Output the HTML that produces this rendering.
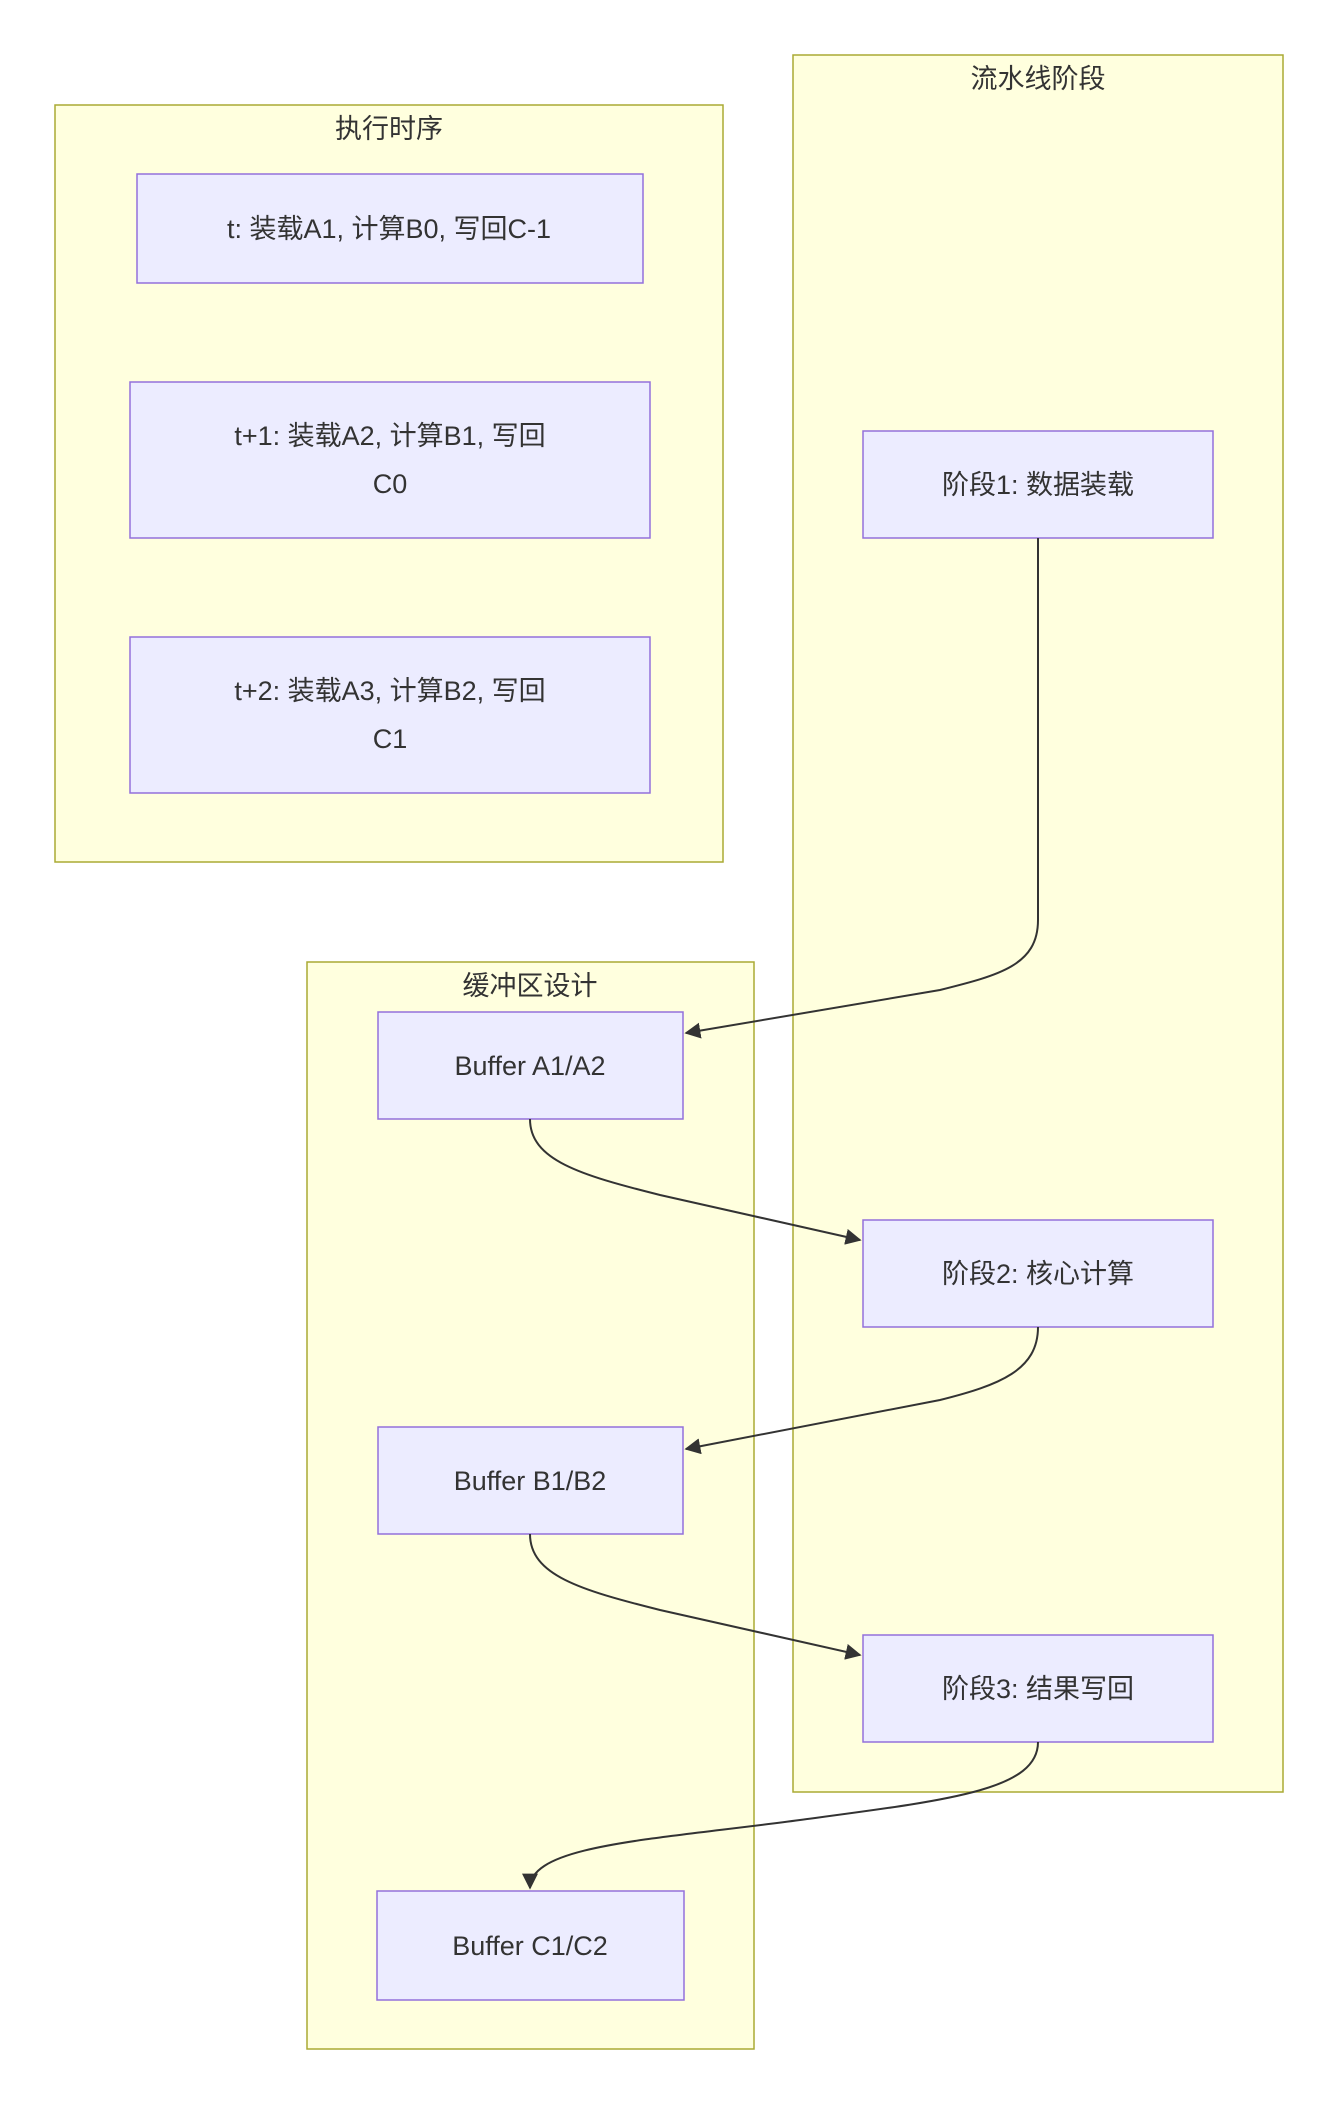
<!DOCTYPE html>
<html><head><meta charset="utf-8"><style>
body{margin:0;background:#fff}
svg text{font-family:"Liberation Sans","Noto Sans CJK SC",sans-serif;font-size:27px;fill:#333;text-anchor:middle}
.c{fill:#ffffde;stroke:#aaaa33;stroke-width:1.5}
.n{fill:#ececff;stroke:#9370db;stroke-width:1.5}
.e{fill:none;stroke:#333;stroke-width:2}
</style></head><body>
<svg width="1342" height="2111" viewBox="0 0 1342 2111" xmlns="http://www.w3.org/2000/svg">
<defs><marker id="a" viewBox="0 0 10 10" refX="9" refY="5" markerWidth="8" markerHeight="8" orient="auto"><path d="M0,0L10,5L0,10z" fill="#333"/></marker></defs>
<rect class="c" x="55" y="105" width="668" height="757"/>
<rect class="c" x="793" y="55" width="490" height="1737"/>
<rect class="c" x="307" y="962" width="447" height="1087"/>
<text x="389" y="138">执行时序</text>
<text x="1038" y="88">流水线阶段</text>
<text x="530" y="995">缓冲区设计</text>
<rect class="n" x="137" y="174" width="506" height="109"/>
<text x="389" y="238">t: 装载A1, 计算B0, 写回C-1</text>
<rect class="n" x="130" y="382" width="520" height="156"/>
<text x="390" y="445">t+1: 装载A2, 计算B1, 写回</text><text x="390" y="493">C0</text>
<rect class="n" x="130" y="637" width="520" height="156"/>
<text x="390" y="700">t+2: 装载A3, 计算B2, 写回</text><text x="390" y="748">C1</text>
<rect class="n" x="863" y="431" width="350" height="107"/>
<text x="1038" y="494">阶段1: 数据装载</text>
<rect class="n" x="863" y="1220" width="350" height="107"/>
<text x="1038" y="1283">阶段2: 核心计算</text>
<rect class="n" x="863" y="1635" width="350" height="107"/>
<text x="1038" y="1698">阶段3: 结果写回</text>
<rect class="n" x="378" y="1012" width="305" height="107"/>
<text x="530" y="1075">Buffer A1/A2</text>
<rect class="n" x="378" y="1427" width="305" height="107"/>
<text x="530" y="1490">Buffer B1/B2</text>
<rect class="n" x="377" y="1891" width="307" height="109"/>
<text x="530" y="1955">Buffer C1/C2</text>
<path class="e" marker-end="url(#a)" d="M1038,538 L1038,920 C1038,965 1000,975 940,990 L686,1033"/>
<path class="e" marker-end="url(#a)" d="M530,1119 C530,1160 580,1175 660,1195 L860,1240"/>
<path class="e" marker-end="url(#a)" d="M1038,1327 C1038,1370 1000,1385 940,1400 L686,1449"/>
<path class="e" marker-end="url(#a)" d="M530,1534 C530,1575 580,1590 660,1610 L860,1655"/>
<path class="e" marker-end="url(#a)" d="M1038,1742 C1038,1790 950,1800 800,1820 C650,1840 530,1845 530,1888"/>
</svg>
</body></html>
